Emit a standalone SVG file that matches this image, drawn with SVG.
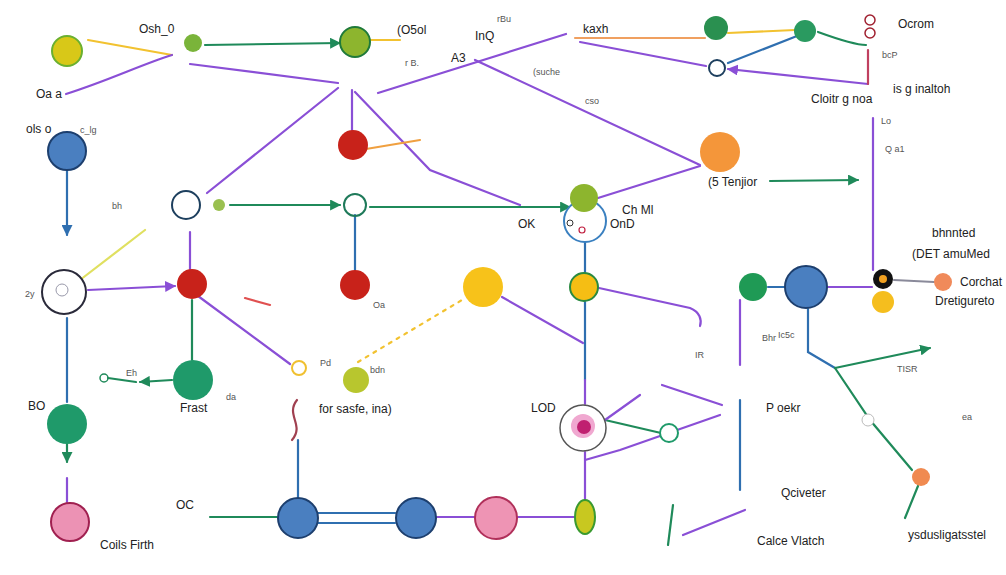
<svg xmlns="http://www.w3.org/2000/svg" width="1006" height="575" viewBox="0 0 1006 575">
<defs>
<style>
.t{font-family:"Liberation Sans",Arial,sans-serif;font-size:12px;fill:#222}
.s{font-family:"Liberation Sans",Arial,sans-serif;font-size:9px;fill:#555}
.c{fill:none;stroke-width:2.2;stroke-linecap:round}
.p{stroke:#8a4fd6}
.g{stroke:#1f8a5a}
.b{stroke:#2f6fb0}
.y{stroke:#f2c230}
.o{stroke:#f0a060}
.n{stroke-width:2}
</style>
<marker id="ap" viewBox="0 0 10 10" refX="9" refY="5" markerWidth="5" markerHeight="5" orient="auto"><path d="M0,0L10,5L0,10z" fill="#8a4fd6"/></marker>
<marker id="ag" viewBox="0 0 10 10" refX="9" refY="5" markerWidth="5" markerHeight="5" orient="auto"><path d="M0,0L10,5L0,10z" fill="#1f8a5a"/></marker>
<marker id="ab" viewBox="0 0 10 10" refX="9" refY="5" markerWidth="5" markerHeight="5" orient="auto"><path d="M0,0L10,5L0,10z" fill="#2f6fb0"/></marker>
</defs>
<rect width="1006" height="575" fill="#ffffff"/>
<g id="connectors">
<path class="c g" d="M205,45 L340,43" marker-end="url(#ag)"/>
<path class="c y" d="M371,40 L400,40"/>
<path class="c y" d="M88,40 L172,55" stroke-width="1.5" stroke="#e8c870"/>
<path class="c p" d="M66,94 C110,80 140,65 172,55"/>
<path class="c p" d="M190,64 L338,83"/>
<path class="c p" d="M207,193 L338,88"/>
<path class="c p" d="M352,90 L352,130"/>
<path class="c p" d="M355,92 L430,170 L520,205" stroke="#9a88d8"/>
<path class="c p" d="M378,93 L566,34"/>
<path class="c p" d="M475,60 L700,165"/>
<path class="c o" d="M575,38 L705,38"/>
<path class="c y" d="M728,33 L795,30"/>
<path class="c p" d="M580,42 L706,66"/>
<path class="c p" d="M868,84 L728,69" marker-end="url(#ap)"/>
<path class="c" d="M868,84 L868,50" stroke="#c04060"/>
<path class="c b" d="M797,36 L728,63" stroke="#6aa0d0"/>
<path class="c g" d="M818,32 C840,40 855,45 866,45" stroke="#3a9a6a"/>
<path class="c p" d="M873,118 L873,270"/>
<path class="c g" d="M770,181 L858,180" stroke="#1a9a8a" marker-end="url(#ag)"/>
<path class="c p" d="M700,166 L598,198"/>
<path class="c g" d="M230,205 L340,205" marker-end="url(#ag)"/>
<path class="c g" d="M370,207 L570,207" marker-end="url(#ag)"/>
<path class="c b" d="M355,215 L355,270"/>
<path class="c p" d="M190,232 L190,269"/>
<path class="c b" d="M67,171 L67,235" marker-end="url(#ab)"/>
<path class="c b" d="M67,318 L67,402"/>
<path class="c g" d="M67,444 L67,462" marker-end="url(#ag)"/>
<path class="c p" d="M67,478 L67,502"/>
<path class="c p" d="M88,290 L175,286" stroke="#9a7ad8" marker-end="url(#ap)"/>
<path class="c g" d="M192,300 L192,360"/>
<path class="c p" d="M198,296 L290,364"/>
<path class="c b" d="M585,242 L585,272"/>
<path class="c b" d="M585,302 L585,380"/>
<path class="c p" d="M585,380 L585,404"/>
<path class="c p" d="M585,452 L585,500"/>
<path class="c p" d="M502,297 L583,343"/>
<path class="c p" d="M599,288 L690,308 C700,312 702,320 700,326" stroke="#9a88d8"/>
<path class="c b" d="M768,287 L785,287"/>
<path class="c p" d="M827,287 L872,287" stroke="#9a88d8"/>
<path class="c" d="M894,280 L934,282" stroke="#8a8a9a" stroke-width="1.5"/>
<path class="c p" d="M740,300 L740,365"/>
<path class="c b" d="M808,309 L808,352 L835,368"/>
<path class="c g" d="M835,368 L930,348" stroke="#6ab03a" marker-end="url(#ag)"/>
<path class="c g" d="M835,368 L870,420 L912,470" stroke="#7ab070"/>
<path class="c g" d="M918,486 L905,518" stroke="#3a9a8a"/>
<path class="c p" d="M662,385 L722,405"/>
<path class="c b" d="M740,400 L740,490" stroke="#5ab0e0"/>
<path class="c p" d="M683,535 L745,510"/>
<path class="c g" d="M673,505 L668,545"/>
<path class="c p" d="M720,415 L620,450 L585,460" stroke="#9a7ad8"/>
<path class="c g" d="M605,420 L661,433"/>
<path class="c p" d="M605,420 L640,395" stroke="#a0a0e0"/>
<path class="c g" d="M172,380 L140,382" marker-end="url(#ag)"/>
<path class="c g" d="M136,382 L108,378" stroke-width="1.2"/>
<circle cx="104" cy="378" r="4" fill="none" stroke="#1f8a5a" stroke-width="1.5"/>
<path class="c b" d="M298,440 L298,497"/>
<path class="c y" d="M358,362 L462,300" stroke-dasharray="3,6"/>
<path class="c g" d="M210,517 L277,517"/>
<path class="c b" d="M318,513 L395,513"/>
<path class="c b" d="M318,523 L395,523"/>
<path class="c p" d="M436,517 L475,517"/>
<path class="c p" d="M517,517 L575,517"/>
<path class="c" d="M297,400 C285,415 305,425 292,440" stroke="#a04050" stroke-width="1.2"/>
<path class="c" d="M270,305 L245,298" stroke="#e05050" stroke-width="1.2"/>
<path class="c" d="M360,150 L420,140" stroke="#f0a040" stroke-width="2"/>
<path class="c" d="M80,280 L145,230" stroke="#e0e060" stroke-width="1.2"/>
</g>
<g id="n1"><circle cx="67" cy="51" r="15" fill="#d8c818" stroke="#6ab030" class="n"/></g>
<g id="n2"><circle cx="193" cy="43" r="9" fill="#7ab43a"/></g>
<g id="n3"><circle cx="355" cy="42" r="15" fill="#8db52e" stroke="#1f7a3a" class="n"/></g>
<g id="n4"><circle cx="67" cy="151" r="19" fill="#4a7fc0" stroke="#1d3f6e" class="n"/></g>
<g id="n5"><circle cx="353" cy="145" r="15" fill="#c8221a"/></g>
<g id="n6"><circle cx="716" cy="28" r="12" fill="#2a9050"/></g>
<g id="n7"><circle cx="805" cy="31" r="11" fill="#2a9a60"/></g>
<g id="n8"><circle cx="717" cy="68" r="8" fill="#fff" stroke="#1d3f5e" class="n"/></g>
<g id="n9"><circle cx="720" cy="152" r="20" fill="#f4963a"/></g>
<g id="n10"><circle cx="870" cy="20" r="5" fill="none" stroke="#a02030" stroke-width="1.5"/><circle cx="870" cy="33" r="5" fill="none" stroke="#a02030" stroke-width="1.5"/></g>
<g id="n11"><circle cx="186" cy="205" r="14" fill="#fff" stroke="#1d3f5e" class="n"/></g>
<g id="n12"><circle cx="219" cy="205" r="6" fill="#9ac050"/></g>
<g id="n13"><circle cx="355" cy="205" r="11" fill="none" stroke="#1f7a5a" class="n"/></g>
<g id="n14"><circle cx="585" cy="221" r="21" fill="#fff" stroke="#3a80c0" class="n"/><circle cx="584" cy="198" r="14" fill="#8db52e"/><circle cx="570" cy="223" r="3" fill="none" stroke="#333"/><circle cx="582" cy="230" r="3" fill="none" stroke="#c02040" stroke-width="1.2"/></g>
<g id="n15"><circle cx="64" cy="292" r="22" fill="#fff" stroke="#2a2a3a" class="n"/><circle cx="62" cy="290" r="6" fill="none" stroke="#99a"/></g>
<g id="n16"><circle cx="192" cy="284" r="15" fill="#c8221a"/></g>
<g id="n17"><circle cx="355" cy="285" r="15" fill="#c8221a"/></g>
<g id="n18"><circle cx="483" cy="287" r="20" fill="#f7c21a"/></g>
<g id="n19"><circle cx="584" cy="287" r="14" fill="#f5be14" stroke="#2a8a40" class="n"/></g>
<g id="n20"><circle cx="753" cy="287" r="14" fill="#1f9a55"/></g>
<g id="n21"><circle cx="806" cy="287" r="21" fill="#4a7fc0" stroke="#1d3f6e" class="n"/></g>
<g id="n22"><circle cx="883" cy="279" r="10" fill="#111"/><circle cx="883" cy="279" r="4" fill="#f0a020"/></g>
<g id="n23"><circle cx="883" cy="302" r="11" fill="#f5be1e"/></g>
<g id="n24"><circle cx="943" cy="282" r="9" fill="#f08a5a"/></g>
<g id="n25"><circle cx="193" cy="380" r="20" fill="#1f9a6a"/></g>
<g id="n26"><circle cx="299" cy="368" r="7" fill="#fff" stroke="#f0c030" class="n"/></g>
<g id="n27"><circle cx="356" cy="380" r="13" fill="#b8c62e"/></g>
<g id="n28"><circle cx="67" cy="424" r="20" fill="#1f9a6a"/></g>
<g id="n29"><circle cx="583" cy="428" r="23" fill="#fff" stroke="#555" stroke-width="1.5"/><circle cx="583" cy="426" r="12" fill="#f0a8d0"/><circle cx="584" cy="427" r="7" fill="#c02070"/></g>
<g id="n30"><circle cx="669" cy="433" r="9" fill="#fff" stroke="#1f9a6a" class="n"/></g>
<g id="n31"><circle cx="70" cy="522" r="19" fill="#ec92b4" stroke="#a02050" class="n"/></g>
<g id="n32"><circle cx="298" cy="518" r="20" fill="#4a7fc0" stroke="#1d3f6e" class="n"/></g>
<g id="n33"><circle cx="416" cy="518" r="20" fill="#4a7fc0" stroke="#1d3f6e" class="n"/></g>
<g id="n34"><circle cx="496" cy="518" r="21" fill="#ee94b4" stroke="#b0305a" class="n"/></g>
<g id="n35"><ellipse cx="585" cy="517" rx="10" ry="17" fill="#c8c820" stroke="#3a9a30" class="n"/></g>
<g id="n36"><circle cx="921" cy="477" r="9" fill="#f08a50"/></g>
<g id="n37"><circle cx="868" cy="420" r="6" fill="#fff" stroke="#bbb"/></g>
<g id="labels">
<text class="t" x="139" y="33">Osh_0</text>
<text class="t" x="36" y="98">Oa a</text>
<text class="t" x="26" y="133">ols o</text>
<text class="s" x="80" y="133">c_lg</text>
<text class="t" x="397" y="34">(O5ol</text>
<text class="s" x="497" y="22">rBu</text>
<text class="t" x="475" y="40">InQ</text>
<text class="t" x="583" y="33">kaxh</text>
<text class="s" x="405" y="66">r B.</text>
<text class="t" x="451" y="62">A3</text>
<text class="s" x="533" y="75">(suche</text>
<text class="s" x="585" y="104">cso</text>
<text class="t" x="898" y="28">Ocrom</text>
<text class="s" x="882" y="58">bcP</text>
<text class="t" x="811" y="103">Cloitr g noa</text>
<text class="t" x="893" y="93">is g inaltoh</text>
<text class="s" x="881" y="124">Lo</text>
<text class="s" x="885" y="152">Q a1</text>
<text class="t" x="708" y="186">(5 Tenjior</text>
<text class="t" x="932" y="237">bhnnted</text>
<text class="t" x="912" y="258">(DET amuMed</text>
<text class="t" x="960" y="286">Corchat</text>
<text class="t" x="935" y="305">Dretigureto</text>
<text class="s" x="112" y="209">bh</text>
<text class="t" x="622" y="214">Ch Ml</text>
<text class="t" x="518" y="228">OK</text>
<text class="t" x="610" y="228">OnD</text>
<text class="s" x="373" y="308">Oa</text>
<text class="s" x="25" y="297">2y</text>
<text class="s" x="126" y="376">Eh</text>
<text class="t" x="180" y="412">Frast</text>
<text class="s" x="226" y="400">da</text>
<text class="t" x="319" y="413">for sasfe, ina)</text>
<text class="s" x="320" y="366">Pd</text>
<text class="s" x="370" y="373">bdn</text>
<text class="t" x="28" y="410">BO</text>
<text class="t" x="531" y="412">LOD</text>
<text class="t" x="766" y="412">P oekr</text>
<text class="s" x="778" y="338">Ic5c</text>
<text class="s" x="762" y="341">Bhr</text>
<text class="s" x="695" y="358">IR</text>
<text class="s" x="897" y="372">TISR</text>
<text class="s" x="962" y="420">ea</text>
<text class="t" x="781" y="497">Qciveter</text>
<text class="t" x="757" y="545">Calce Vlatch</text>
<text class="t" x="908" y="539">ysdusligatsstel</text>
<text class="t" x="100" y="549">Coils Firth</text>
<text class="t" x="176" y="509">OC</text>
</g>
</svg>
